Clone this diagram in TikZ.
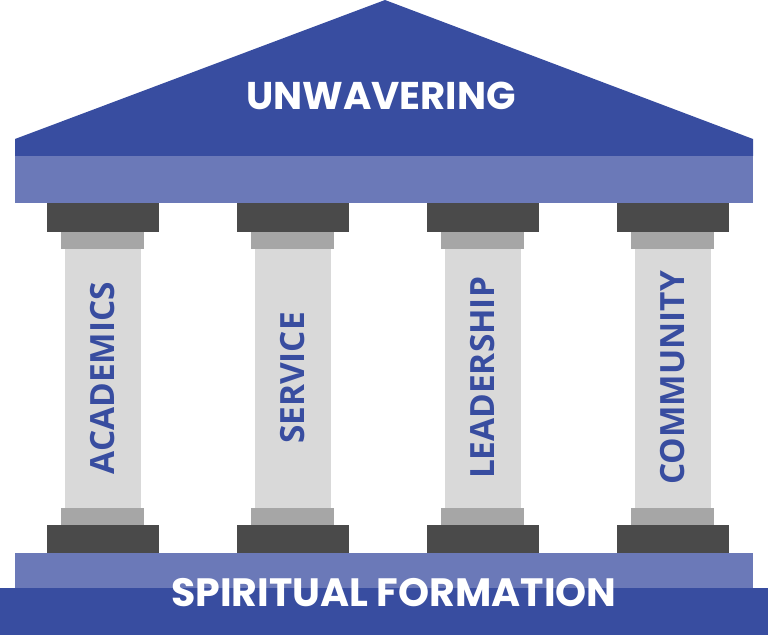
\documentclass[tikz,border=0pt]{standalone}
\usepackage{fontspec}
\newfontfamily\headfont{Poppins}
\newfontfamily\colfont{Open Sans}
\usetikzlibrary{positioning}

\definecolor{roofblue}{HTML}{384DA0}
\definecolor{bandblue}{HTML}{6B79B8}
\definecolor{darkstone}{HTML}{4A4A4A}
\definecolor{midstone}{HTML}{A6A6A6}
\definecolor{lightstone}{HTML}{D9D9D9}

\tikzset{
  headtext/.style={text=white,font=\headfont\bfseries\fontsize{22}{22}\selectfont,inner sep=0pt},
  basetext/.style={text=white,font=\headfont\bfseries\fontsize{22.5}{22.5}\selectfont,inner sep=0pt},
  coltext/.style={text=roofblue,font=\colfont\bfseries\fontsize{19}{19}\selectfont,rotate=90,inner sep=0pt}
}

\begin{document}
\begin{tikzpicture}[x=0.02cm,y=-0.02cm]
\useasboundingbox (0,0) rectangle (768,635);

% roof and entablature
\fill[roofblue] (15,156) -- (15,139) -- (385,0) -- (753,139) -- (753,156) -- cycle;
\fill[bandblue] (15,156) rectangle (753,203);
\node[headtext] (roof) at (381,96) {UNWAVERING};

% columns
\foreach \x/\name/\lbl in {47/academics/ACADEMICS,237/service/SERVICE,427/leadership/LEADERSHIP,617/community/COMMUNITY}{
  \fill[darkstone] (\x,203) rectangle ++(112,29);
  \fill[midstone] (\x+14,232) rectangle ++(83,17);
  \fill[lightstone] (\x+18,249) rectangle ++(76,259);
  \fill[midstone] (\x+14,508) rectangle ++(83,17);
  \fill[darkstone] (\x,525) rectangle ++(112,28);
  \node[coltext] (\name) at (\x+56,378) {\lbl};
}

% steps
\fill[bandblue] (15,553) rectangle (753,588);
\fill[roofblue] (0,588) rectangle (768,635);
\node[basetext] (found) at (394,593) {SPIRITUAL FORMATION};
\end{tikzpicture}
\end{document}
